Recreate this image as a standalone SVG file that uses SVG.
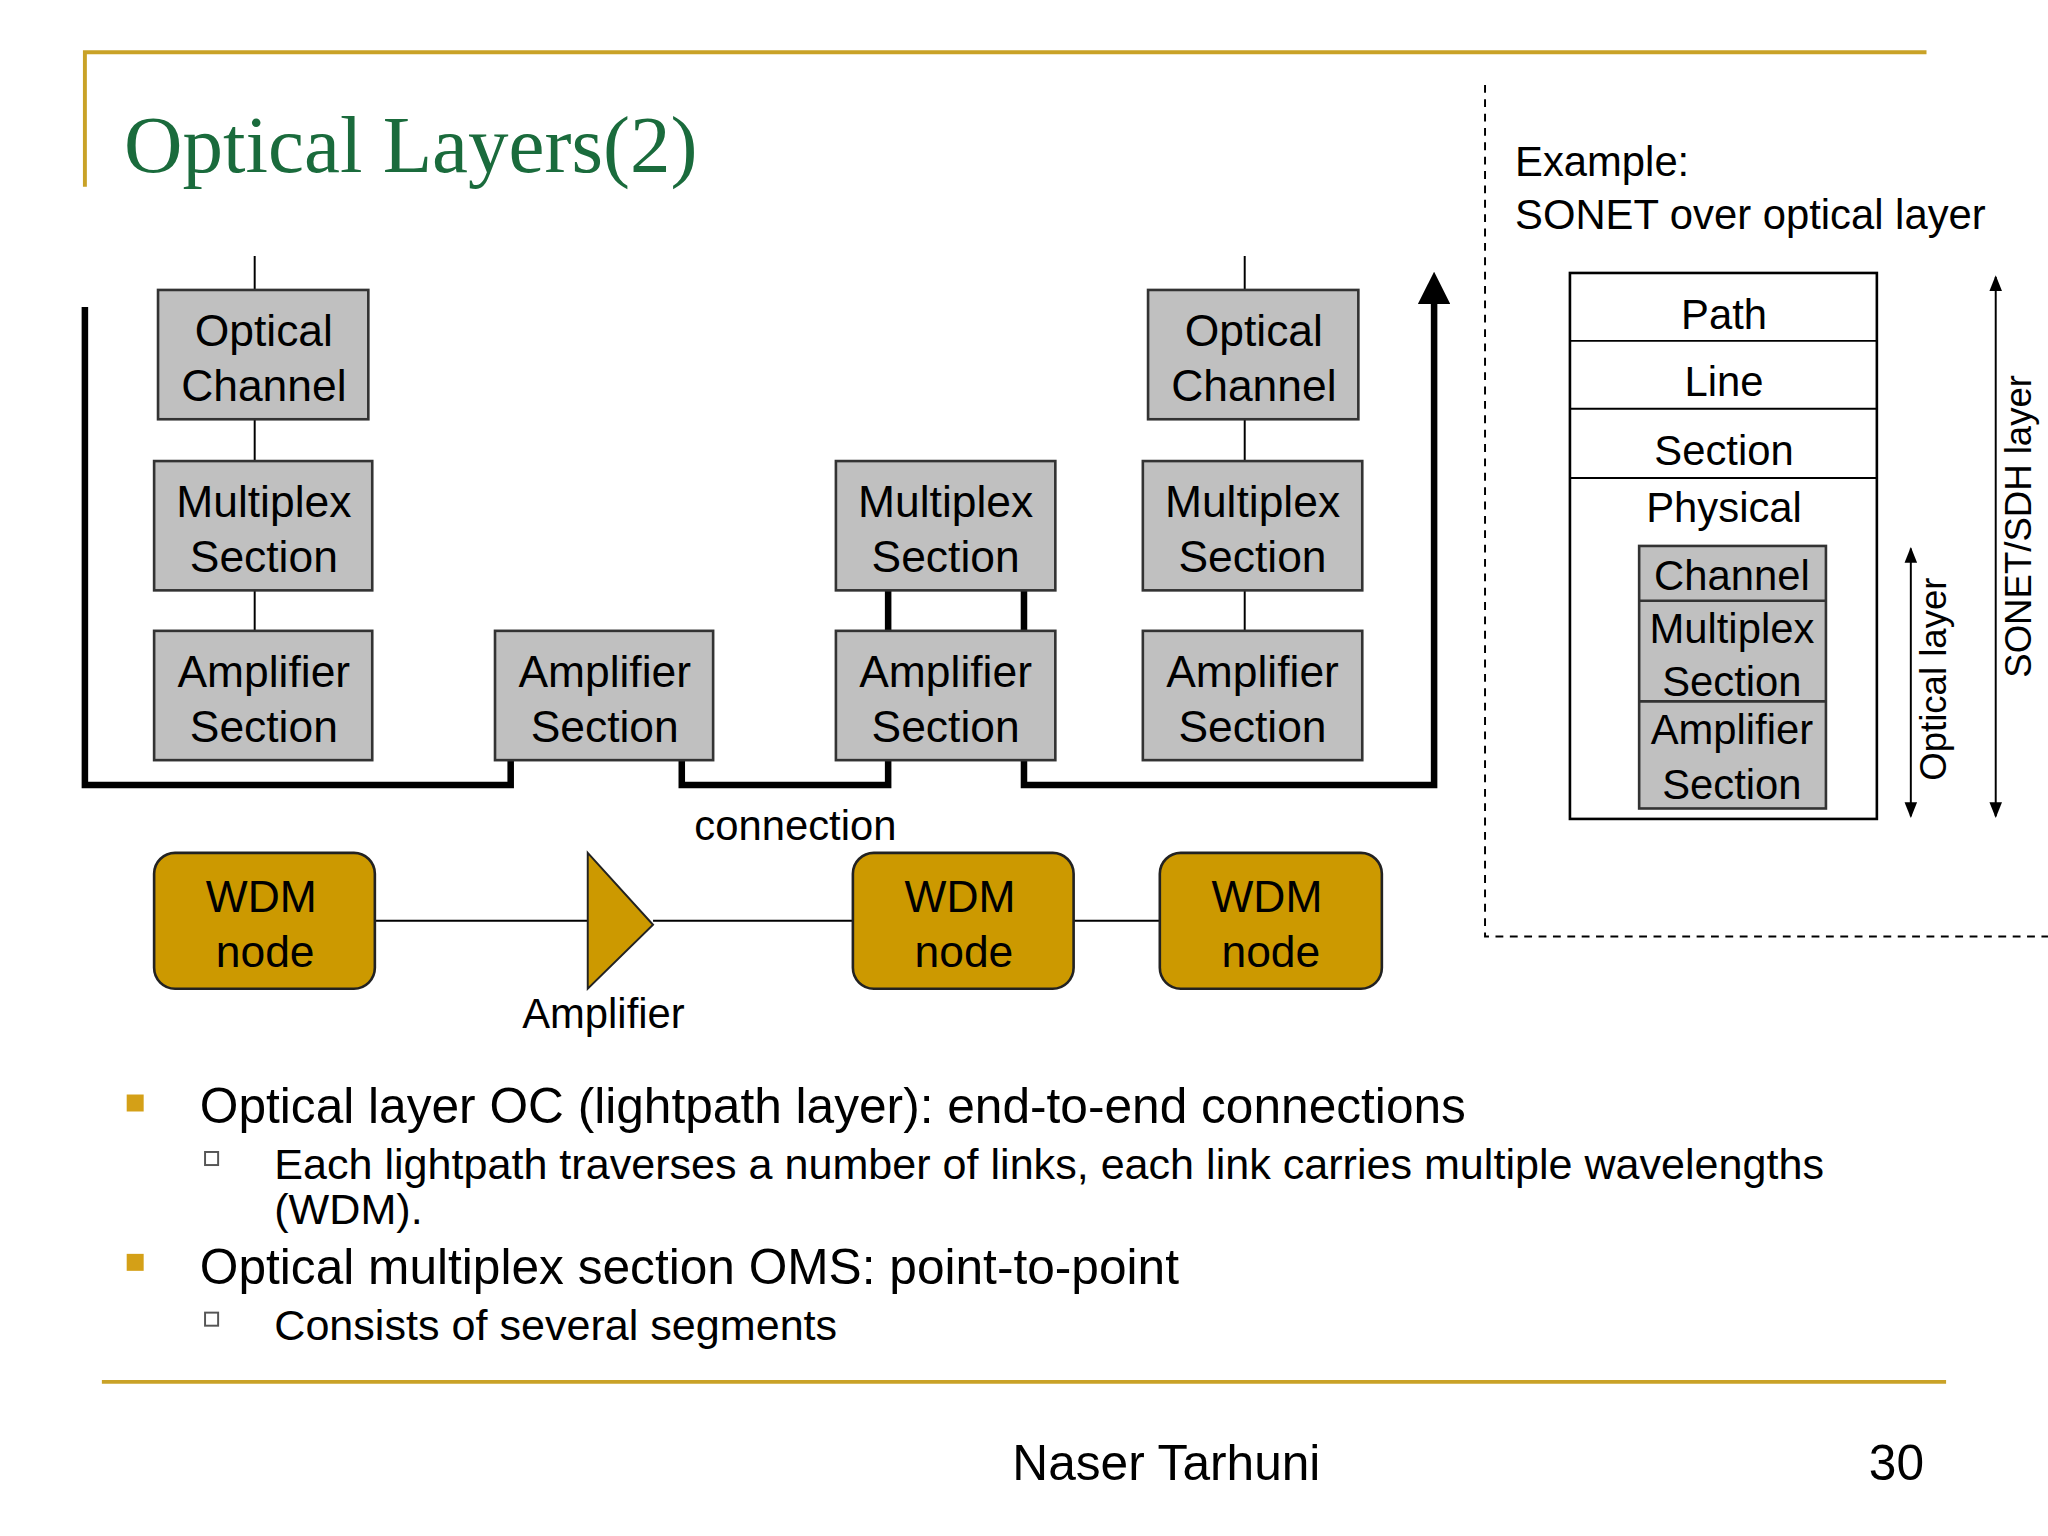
<svg xmlns="http://www.w3.org/2000/svg" width="2048" height="1536" viewBox="0 0 2048 1536">
<style>
text{font-family:"Liberation Sans",Arial,sans-serif;fill:#000}
.c{text-anchor:middle}
.box{fill:#c0c0c0;stroke:#333;stroke-width:2}
.wdm{fill:#cc9900;stroke:#222;stroke-width:2}
.thin{stroke:#000;stroke-width:1.5;fill:none}
.thick{stroke:#000;stroke-width:5;fill:none}
.gold{stroke:#c9a227;stroke-width:3;fill:none}
</style>
<defs>
<marker id="ah" viewBox="0 0 10 10" refX="9" refY="5" markerWidth="8" markerHeight="8" orient="auto-start-reverse"><path d="M0,1 L10,5 L0,9 z" fill="#000"/></marker>
<marker id="big" viewBox="0 0 10 10" refX="2" refY="5" markerWidth="5" markerHeight="5" orient="auto"><path d="M0,0 L10,5 L0,10 z" fill="#000"/></marker>
</defs>
<rect width="2048" height="1536" fill="#fff"/>
<g transform="scale(1.3061)">
<path class="gold" d="M65,143 V40 H1475"/>
<line class="gold" x1="78" y1="1058" x2="1490" y2="1058"/>
<text x="95" y="132" style="font-family:'Liberation Serif',serif;font-size:62px;fill:#1a6b3c">Optical Layers(2)</text>
<path d="M1137,65 V717 H1568" fill="none" stroke="#000" stroke-width="1.5" stroke-dasharray="6,5"/>
<text x="1160" y="135" font-size="32">Example:</text>
<text x="1160" y="175" font-size="32">SONET over optical layer</text>
<g id="stack">
<rect x="1202" y="209" width="235" height="418" fill="#fff" stroke="#000" stroke-width="2"/>
<path d="M1202,261H1437M1202,313H1437M1202,366H1437" stroke="#000" stroke-width="1.5"/>
<text class="c" x="1320" y="252" font-size="32">Path</text>
<text class="c" x="1320" y="303" font-size="32">Line</text>
<text class="c" x="1320" y="356" font-size="32">Section</text>
<text class="c" x="1320" y="400" font-size="32">Physical</text>
<rect class="box" x="1255" y="418" width="143" height="201"/>
<path d="M1255,460H1398M1255,537H1398" stroke="#333" stroke-width="2"/>
<text class="c" x="1326" y="452" font-size="32">Channel</text>
<text class="c" x="1326" y="492" font-size="32">Multiplex</text>
<text class="c" x="1326" y="533" font-size="32">Section</text>
<text class="c" x="1326" y="570" font-size="32">Amplifier</text>
<text class="c" x="1326" y="612" font-size="32">Section</text>
</g>
<g id="arrows-right">
<line class="thin" x1="1528" y1="212" x2="1528" y2="625" marker-start="url(#ah)" marker-end="url(#ah)"/>
<text class="c" transform="translate(1555,403) rotate(-90)" font-size="28">SONET/SDH layer</text>
<line class="thin" x1="1463" y1="420" x2="1463" y2="625" marker-start="url(#ah)" marker-end="url(#ah)"/>
<text class="c" transform="translate(1490,520) rotate(-90)" font-size="28">Optical layer</text>
</g>
<g id="connectors">
<path class="thin" d="M195,196V222M195,321V353M195,452V483M953,196V222M953,321V353M953,452V483"/>
<path class="thick" d="M680,452V483M784,452V483"/>
<path class="thick" d="M65,235V601H391V582M522,582V601H680V582M784,582V601H1098V228" marker-end="url(#big)"/>
<path class="thin" d="M287,705H450M500,705H653M822,705H888"/>
</g>
<g id="oc1"><rect class="box" x="121" y="222" width="161" height="99"/><text class="c" x="202" y="265" font-size="34">Optical</text><text class="c" x="202" y="307" font-size="34">Channel</text></g>
<g id="ms1"><rect class="box" x="118" y="353" width="167" height="99"/><text class="c" x="202" y="396" font-size="34">Multiplex</text><text class="c" x="202" y="438" font-size="34">Section</text></g>
<g id="as1"><rect class="box" x="118" y="483" width="167" height="99"/><text class="c" x="202" y="526" font-size="34">Amplifier</text><text class="c" x="202" y="568" font-size="34">Section</text></g>
<g id="as2"><rect class="box" x="379" y="483" width="167" height="99"/><text class="c" x="463" y="526" font-size="34">Amplifier</text><text class="c" x="463" y="568" font-size="34">Section</text></g>
<g id="ms3"><rect class="box" x="640" y="353" width="168" height="99"/><text class="c" x="724" y="396" font-size="34">Multiplex</text><text class="c" x="724" y="438" font-size="34">Section</text></g>
<g id="as3"><rect class="box" x="640" y="483" width="168" height="99"/><text class="c" x="724" y="526" font-size="34">Amplifier</text><text class="c" x="724" y="568" font-size="34">Section</text></g>
<g id="oc4"><rect class="box" x="879" y="222" width="161" height="99"/><text class="c" x="960" y="265" font-size="34">Optical</text><text class="c" x="960" y="307" font-size="34">Channel</text></g>
<g id="ms4"><rect class="box" x="875" y="353" width="168" height="99"/><text class="c" x="959" y="396" font-size="34">Multiplex</text><text class="c" x="959" y="438" font-size="34">Section</text></g>
<g id="as4"><rect class="box" x="875" y="483" width="168" height="99"/><text class="c" x="959" y="526" font-size="34">Amplifier</text><text class="c" x="959" y="568" font-size="34">Section</text></g>
<text class="c" x="609" y="643" font-size="32">connection</text>
<g id="wdm1"><rect class="wdm" x="118" y="653" width="169" height="104" rx="16"/><text class="c" x="200" y="698" font-size="34">WDM</text><text class="c" x="203" y="740" font-size="34">node</text></g>
<g id="amp"><polygon points="450,653 500,708 450,757" fill="#cc9900" stroke="#222" stroke-width="1.5"/><text class="c" x="462" y="787" font-size="32">Amplifier</text></g>
<g id="wdm2"><rect class="wdm" x="653" y="653" width="169" height="104" rx="16"/><text class="c" x="735" y="698" font-size="34">WDM</text><text class="c" x="738" y="740" font-size="34">node</text></g>
<g id="wdm3"><rect class="wdm" x="888" y="653" width="170" height="104" rx="16"/><text class="c" x="970" y="698" font-size="34">WDM</text><text class="c" x="973" y="740" font-size="34">node</text></g>
<g id="bullets">
<rect x="97" y="838" width="13" height="13" fill="#d4a017"/>
<text x="153" y="860" font-size="38">Optical layer OC (lightpath layer): end-to-end connections</text>
<rect x="157" y="882" width="10" height="10" fill="none" stroke="#555" stroke-width="1.5"/>
<text x="210" y="903" font-size="33">Each lightpath traverses a number of links, each link carries multiple wavelengths</text>
<text x="210" y="937" font-size="33">(WDM).</text>
<rect x="97" y="960" width="13" height="13" fill="#d4a017"/>
<text x="153" y="983" font-size="38">Optical multiplex section OMS: point-to-point</text>
<rect x="157" y="1005" width="10" height="10" fill="none" stroke="#555" stroke-width="1.5"/>
<text x="210" y="1026" font-size="33">Consists of several segments</text>
</g>
<text class="c" x="893" y="1133" font-size="38">Naser Tarhuni</text>
<text class="c" x="1452" y="1133" font-size="38">30</text>
</g>
</svg>
